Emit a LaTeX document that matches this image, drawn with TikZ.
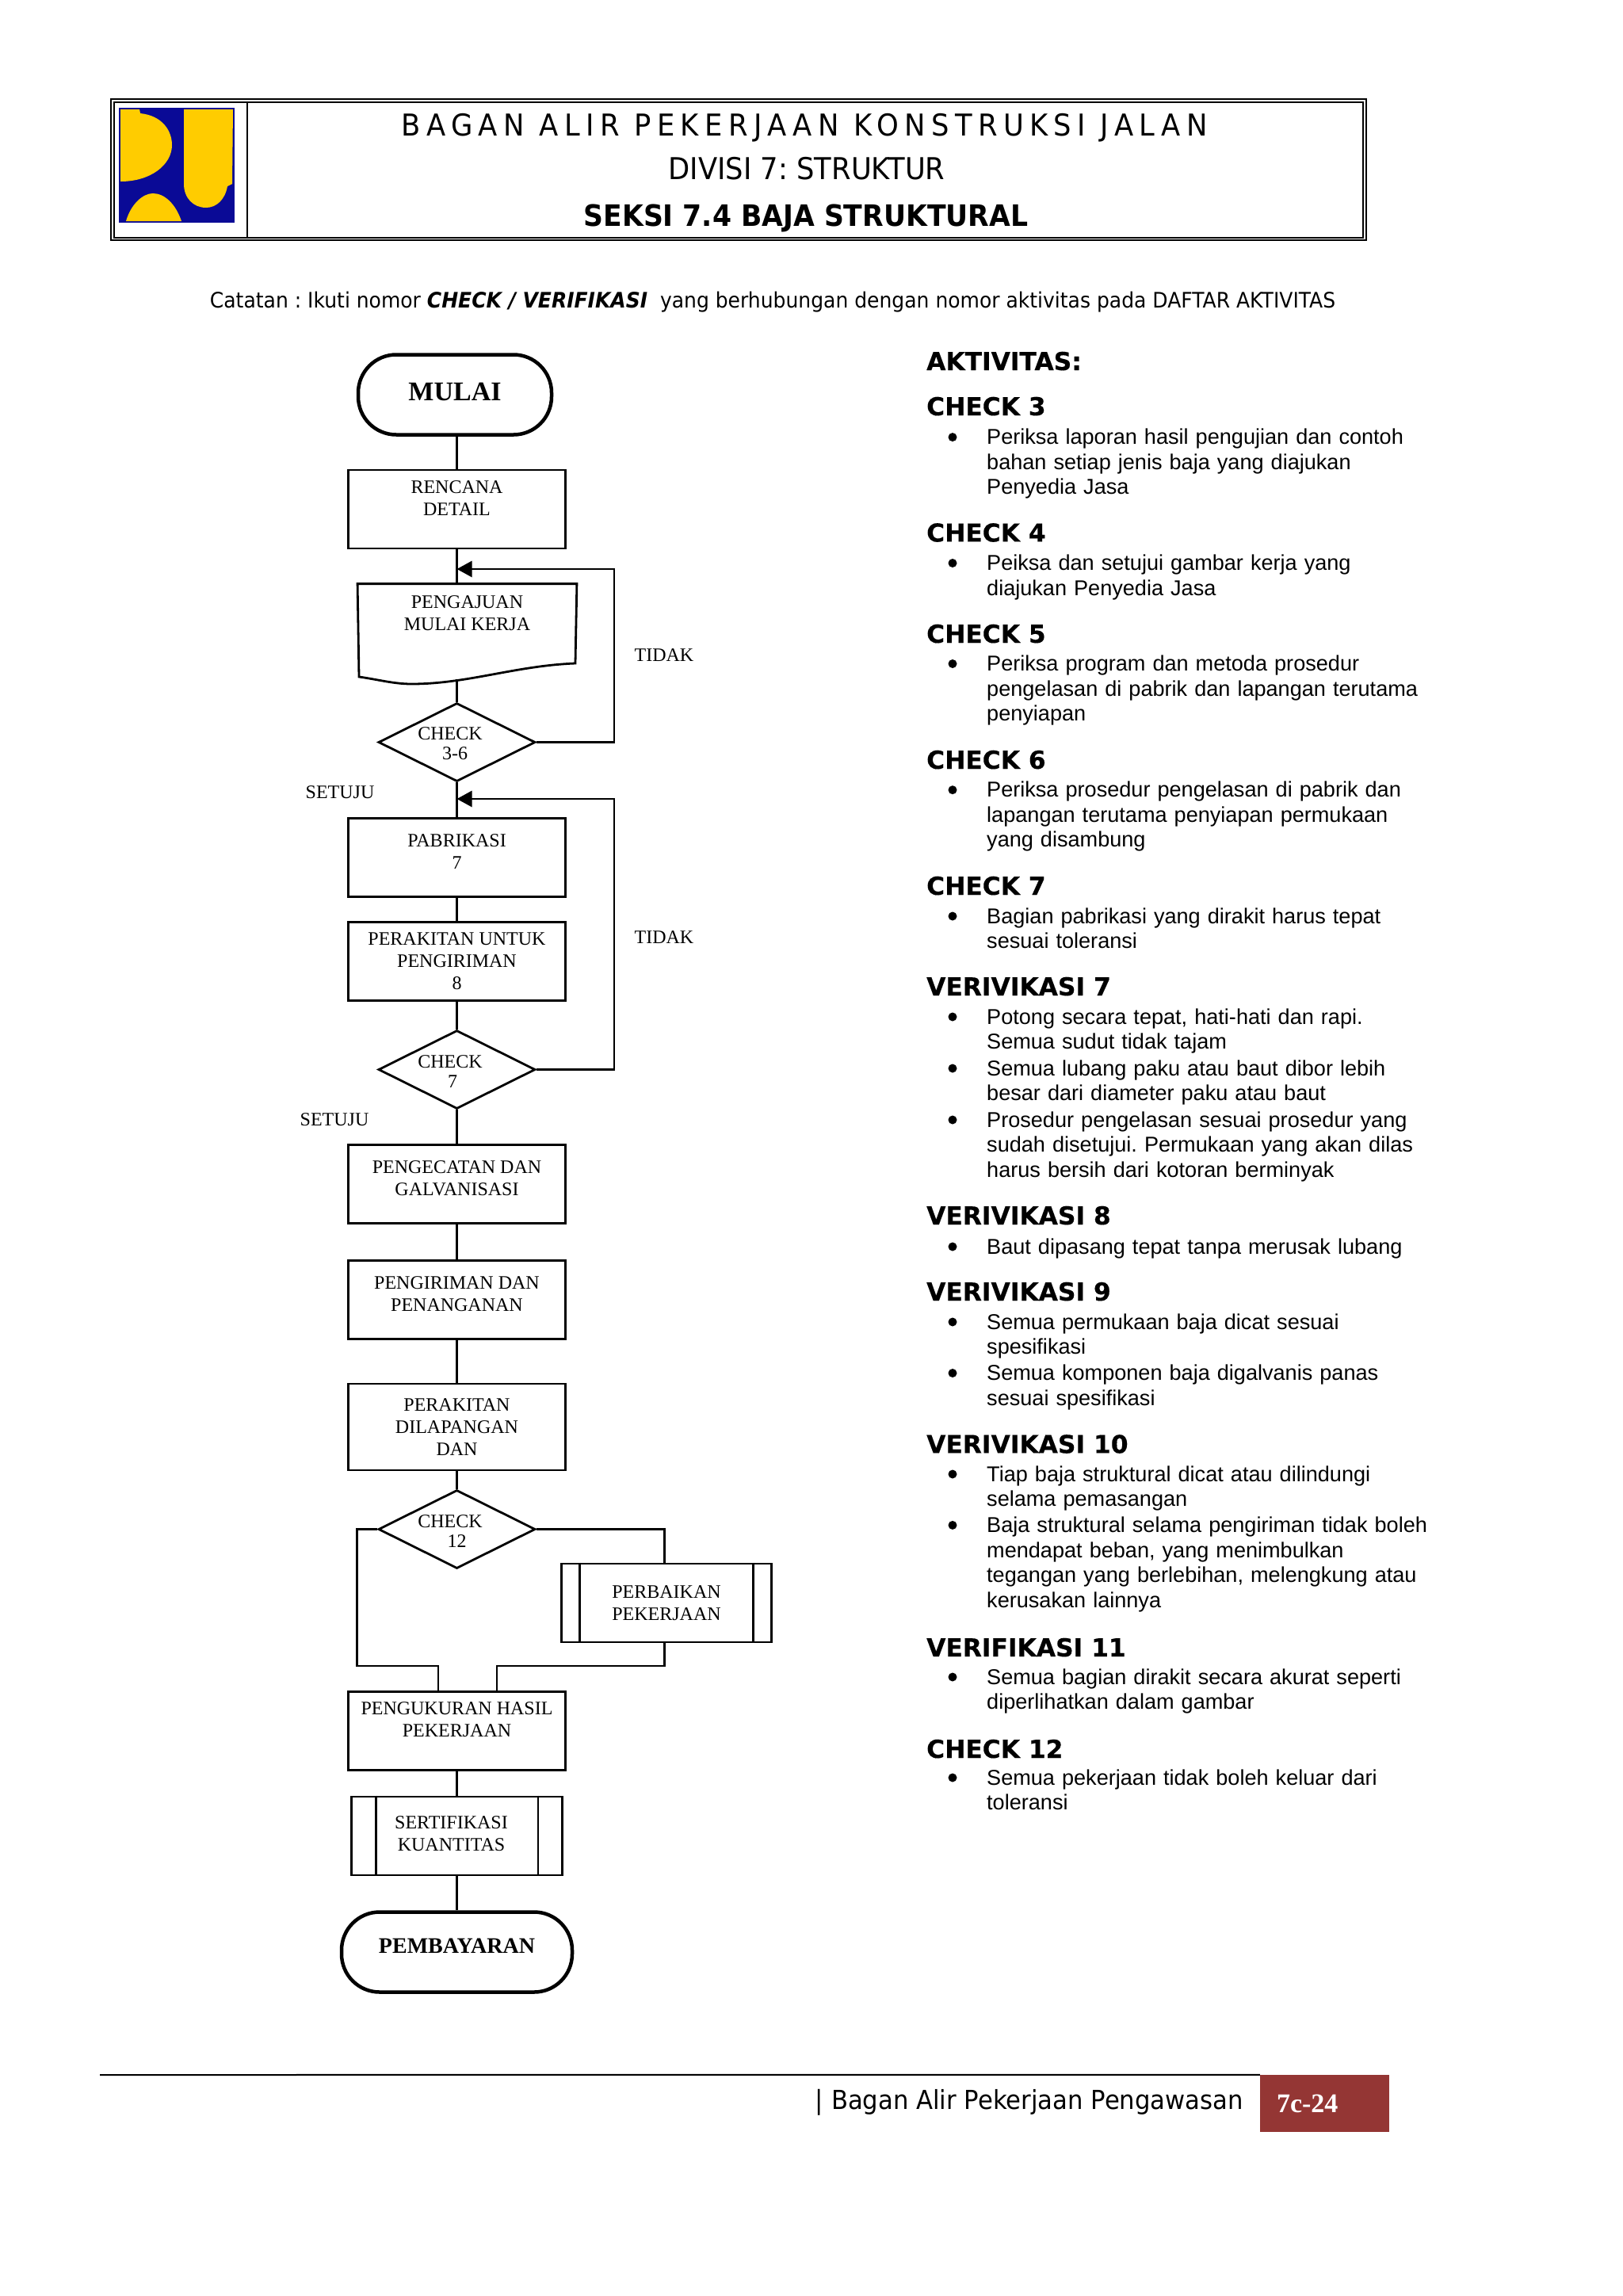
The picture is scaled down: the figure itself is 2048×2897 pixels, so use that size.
\documentclass[tikz,border=0pt]{standalone}
\usepackage{fontspec}
\setmainfont{Liberation Serif}
\newfontfamily\listfont{Liberation Sans}
\newfontfamily\headfont[FakeStretch=0.93]{DejaVu Sans}
\newfontfamily\spacedfont[FakeStretch=0.93,LetterSpace=19.5]{DejaVu Sans}
\newfontfamily\titlefont[BoldFeatures={FakeBold=0.3}]{DejaVu Sans}
\usetikzlibrary{shapes.geometric, arrows.meta}
\definecolor{logoblue}{HTML}{0A0A96}
\definecolor{logoyellow}{HTML}{FFCC00}
\definecolor{pagered}{HTML}{943634}
\tikzstyle{flowbox} = [rectangle, draw=black, line width=2.8pt, inner sep=0pt,
minimum width=274pt, minimum height=99pt, align=center,
font=\fontsize{24}{28}\selectfont]
\tikzstyle{terminal} = [rectangle, rounded corners=48pt, draw=black, line width=4.5pt,
inner sep=0pt, minimum height=101pt, font=\bfseries]
\tikzstyle{decision} = [diamond, aspect=2, draw=black, line width=2.8pt, inner sep=0pt,
minimum width=198pt, minimum height=99pt, align=center, text height=45pt,
font=\fontsize{24}{25}\selectfont]
\tikzstyle{flowlabel} = [inner sep=0pt, font=\fontsize{24}{28}\selectfont]
\tikzstyle{flowline} = [line width=2.8pt]
\tikzstyle{arrow} = [line width=2.8pt,-{Triangle[length=19pt,width=20pt]}]
\tikzstyle{headtext} = [anchor=base, inner sep=0pt]
\tikzstyle{titletext} = [anchor=base west, inner sep=0pt,
font=\titlefont\bfseries\fontsize{31.3}{36}\selectfont]
\tikzstyle{itemtext} = [anchor=base west, inner sep=0pt, text width=590pt, align=left,
font=\listfont\fontsize{27.1}{31.6}\selectfont]
\tikzstyle{itemdot} = [circle, fill=black, inner sep=0pt, minimum size=11pt]
\newcommand{\titleline}[3]{\node[titletext] (#1) at (1169,#2) {#3};}
\newcommand{\itemline}[3]{\node[itemdot] (#1dot) at (1202,#2-9) {};
\node[itemtext] (#1) at (1245,#2) {#3};}

\begin{document}
\frenchspacing
\begin{tikzpicture}[x=1pt, y=-1pt]
\useasboundingbox (0,0) rectangle (2048,2897);

% Header
\draw[line width=2pt] (140,125) rectangle (1724,303);
\draw[line width=2pt] (144,128.5) rectangle (1720,300);
\draw[line width=1.5pt] (312,128.5) -- (312,300);
\fill[logoblue] (150,136) rectangle (296,281);
\fill[logoyellow] (152,138) -- (176,138) -- (177,143) .. controls (205,146) and (217,165) .. (217,183)
.. controls (217,208) and (190,229) .. (152,229) -- cycle;
\fill[logoyellow] (232,138) -- (294,138) -- (293,232) -- (287,235) .. controls (284,252) and (273,262) .. (260,262)
.. controls (244,262) and (232,250) .. (232,232) -- cycle;
\fill[logoyellow] (159,279) .. controls (165,258) and (180,244) .. (193,244)
.. controls (208,244) and (222,258) .. (229,279) -- cycle;
\node[headtext, font=\spacedfont\fontsize{38}{44}\selectfont] (bagan) at (1015,171) {BAGAN ALIR PEKERJAAN KONSTRUKSI JALAN};
\node[headtext, font=\headfont\fontsize{38}{44}\selectfont] (divisi) at (1018,226) {DIVISI 7: STRUKTUR};
\node[headtext, font=\headfont\bfseries\fontsize{37.2}{44}\selectfont] (seksi) at (1017,285) {SEKSI 7.4 BAJA STRUKTURAL};
\node[headtext, font=\headfont\fontsize{26.9}{32}\selectfont] (catatan) at (975,388) {Catatan : Ikuti nomor \textbf{\textit{CHECK / VERIFIKASI}}\ \ yang berhubungan dengan nomor aktivitas pada DAFTAR AKTIVITAS};

% Nodes
\node[terminal, minimum width=244pt, text depth=7pt, font=\bfseries\fontsize{34}{40}\selectfont] (mulai) at (574,498) {MULAI};
\node[flowbox, below of=mulai, node distance=144.5pt, xshift=2.5pt] (rencana) {RENCANA\\DETAIL\\~};
\node[flowbox, draw=none, minimum height=100pt, below of=rencana, node distance=145.5pt, xshift=13pt] (pengajuan) {PENGAJUAN\\MULAI KERJA\\~};
\node[decision, below of=pengajuan, node distance=148.5pt, xshift=-13pt] (check36) {CHECK\hspace*{17pt}\\3-6\hspace*{5pt}};
\node[flowbox, text height=84pt, below of=check36, node distance=145.5pt] (pabrikasi) {PABRIKASI\\7\\~};
\node[flowbox, below of=pabrikasi, node distance=131pt] (perakitan) {PERAKITAN UNTUK\\PENGIRIMAN\\8};
\node[decision, below of=perakitan, node distance=136.5pt] (check7) {CHECK\hspace*{17pt}\\7\hspace*{11pt}};
\node[flowbox, text height=84pt, below of=check7, node distance=144.5pt] (pengecatan) {PENGECATAN DAN\\GALVANISASI\\~};
\node[flowbox, text height=84pt, below of=pengecatan, node distance=146pt] (pengiriman) {PENGIRIMAN DAN\\PENANGANAN\\~};
\node[flowbox, minimum height=109pt, below of=pengiriman, node distance=160.5pt] (dilapangan) {PERAKITAN\\DILAPANGAN\\DAN};
\node[decision, below of=dilapangan, node distance=129pt] (check12) {CHECK\hspace*{17pt}\\12};
\node[flowbox, minimum width=265.5pt] (perbaikan) at (841,2022.5) {PERBAIKAN\\PEKERJAAN};
\node[flowbox, below of=check12, node distance=254.5pt] (pengukuran) {PENGUKURAN HASIL\\PEKERJAAN\\~};
\node[flowbox, minimum width=266pt, text depth=6pt, below of=pengukuran, node distance=132.5pt] (sertifikasi) {SERTIFIKASI\hspace*{14pt}\\KUANTITAS\hspace*{14pt}};
\node[terminal, minimum width=291pt, text depth=16pt, font=\bfseries\fontsize{28}{32}\selectfont, below of=sertifikasi, node distance=146.5pt] (pembayaran) {PEMBAYARAN};

\node[flowlabel] (tidaka) at (838,827) {TIDAK};
\node[flowlabel] (setujua) at (429,1000) {SETUJU};
\node[flowlabel] (tidakb) at (838,1182.5) {TIDAK};
\node[flowlabel] (setujub) at (422,1413) {SETUJU};

% Shapes on the nodes
\draw[flowline] (pengajuan.north west) -- (pengajuan.north east) -- (726,837)
.. controls (650,840) and (590,863) .. (519,863) .. controls (497,863) and (475,857) .. (453,854) -- cycle;
\draw[flowline] ([xshift=24.5pt]perbaikan.north west) -- ([xshift=24.5pt]perbaikan.south west);
\draw[flowline] ([xshift=-24.5pt]perbaikan.north east) -- ([xshift=-24.5pt]perbaikan.south east);
\draw[flowline] ([xshift=32pt]sertifikasi.north west) -- ([xshift=32pt]sertifikasi.south west);
\draw[flowline] ([xshift=-32pt]sertifikasi.north east) -- ([xshift=-32pt]sertifikasi.south east);

% Arrows
\coordinate (pengajuanout) at (576.5,857);
\coordinate (loopa) at (775,718);
\coordinate (loopb) at (775,1008);
\draw[flowline] (mulai.south -| rencana.north) -- (rencana.north);
\draw[flowline] (rencana.south) -- (rencana.south |- pengajuan.north);
\draw[flowline] (pengajuanout) -- (check36.north);
\draw[flowline] (check36.south) -- (pabrikasi.north);
\draw[flowline] (pabrikasi.south) -- (perakitan.north);
\draw[flowline] (perakitan.south) -- (check7.north);
\draw[flowline] (check7.south) -- (pengecatan.north);
\draw[flowline] (pengecatan.south) -- (pengiriman.north);
\draw[flowline] (pengiriman.south) -- (dilapangan.north);
\draw[flowline] (dilapangan.south) -- (check12.north);
\draw[flowline] (pengukuran.south) -- (sertifikasi.north);
\draw[flowline] (sertifikasi.south) -- (pembayaran.north);
\draw[arrow] (check36.east) -| (loopa) -- (loopa -| rencana.south);
\draw[arrow] (check7.east) -| (loopb) -- (loopb -| rencana.south);
\coordinate (leftturn) at (450.5,2102);
\coordinate (rightturn) at (838.5,2102);
\draw[flowline] (check12.west) -| (leftturn) -| ([xshift=-23.5pt]pengukuran.north);
\draw[flowline] (check12.east) -| (perbaikan.north -| rightturn);
\draw[flowline] (perbaikan.south -| rightturn) -- (rightturn) -| ([xshift=50.5pt]pengukuran.north);

% Activity list
\titleline{aktivitas}{467}{AKTIVITAS:}
\titleline{checkc}{524}{CHECK 3}
\itemline{checkca}{560.6}{Periksa laporan hasil pengujian dan contoh\\bahan setiap jenis baja yang diajukan\\Penyedia Jasa}
\titleline{checkd}{683.4}{CHECK 4}
\itemline{checkda}{719.5}{Peiksa dan setujui gambar kerja yang\\diajukan Penyedia Jasa}
\titleline{checke}{811}{CHECK 5}
\itemline{checkea}{846.5}{Periksa program dan metoda prosedur\\pengelasan di pabrik dan lapangan terutama\\penyiapan}
\titleline{checkf}{970}{CHECK 6}
\itemline{checkfa}{1005.7}{Periksa prosedur pengelasan di pabrik dan\\lapangan terutama penyiapan permukaan\\yang disambung}
\titleline{checkg}{1129}{CHECK 7}
\itemline{checkga}{1165}{Bagian pabrikasi yang dirakit harus tepat\\sesuai toleransi}
\titleline{verg}{1256}{VERIVIKASI 7}
\itemline{verga}{1292}{Potong secara tepat, hati-hati dan rapi.\\Semua sudut tidak tajam}
\itemline{vergb}{1357}{Semua lubang paku atau baut dibor lebih\\besar dari diameter paku atau baut}
\itemline{vergc}{1422}{Prosedur pengelasan sesuai prosedur yang\\sudah disetujui. Permukaan yang akan dilas\\harus bersih dari kotoran berminyak}
\titleline{verh}{1545}{VERIVIKASI 8}
\itemline{verha}{1582}{Baut dipasang tepat tanpa merusak lubang}
\titleline{veri}{1641}{VERIVIKASI 9}
\itemline{veria}{1677}{Semua permukaan baja dicat sesuai\\spesifikasi}
\itemline{verib}{1741.5}{Semua komponen baja digalvanis panas\\sesuai spesifikasi}
\titleline{verj}{1833.4}{VERIVIKASI 10}
\itemline{verja}{1869}{Tiap baja struktural dicat atau dilindungi\\selama pemasangan}
\itemline{verjb}{1933.4}{Baja struktural selama pengiriman tidak boleh\\mendapat beban, yang menimbulkan\\tegangan yang berlebihan, melengkung atau\\kerusakan lainnya}
\titleline{verk}{2090}{VERIFIKASI 11}
\itemline{verka}{2125}{Semua bagian dirakit secara akurat seperti\\diperlihatkan dalam gambar}
\titleline{checkl}{2218}{CHECK 12}
\itemline{checkla}{2252}{Semua pekerjaan tidak boleh keluar dari\\toleransi}

% Footer
\node[rectangle, fill=pagered, text=white, inner sep=0pt, minimum width=162.5pt, minimum height=72pt,
font=\bfseries\fontsize{34}{40}\selectfont] (pagebox) at (1671.25,2654) {7c-24\hspace*{43pt}};
\coordinate (footerstart) at (126,2618);
\draw[line width=2pt] (footerstart) -- (pagebox.north west);
\node[headtext, anchor=base east, font=\headfont\fontsize{33}{38}\selectfont] (footertext) at (1569,2661) {| Bagan Alir Pekerjaan Pengawasan};

\end{tikzpicture}
\end{document}
